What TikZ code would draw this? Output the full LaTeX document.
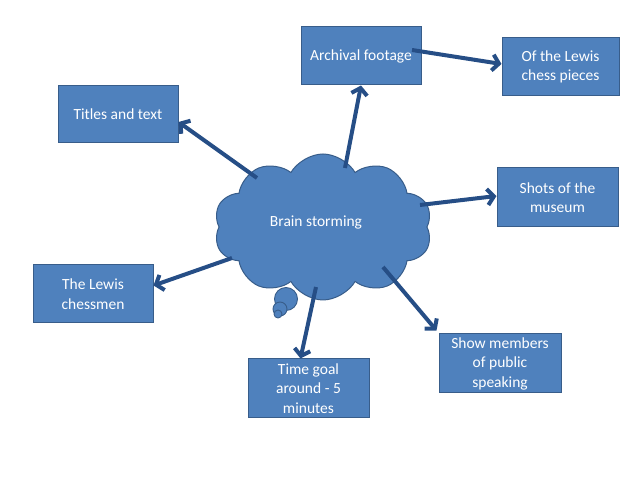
\documentclass[tikz,border=0pt]{standalone}
\usepackage{fontspec}
\setmainfont{Carlito}
\usetikzlibrary{arrows.meta,shapes.symbols,calc}
\definecolor{boxfill}{HTML}{4F81BD}
\definecolor{boxline}{HTML}{385D8A}
\definecolor{arrowc}{HTML}{264E86}
\begin{document}
\begin{tikzpicture}[x=1pt,y=-1pt,
  box/.style={rectangle,fill=boxfill,draw=boxline,line width=1pt,text=white,align=center,
    font=\fontsize{15.5}{19.5}\selectfont,inner sep=2pt},
  conn/.style={draw=arrowc,line width=4pt,-{Straight Barb[length=6.5pt 0,width=16pt 0]}},
  bubble/.style={circle,fill=boxfill,draw=boxline,line width=0.9pt,inner sep=0pt}]
\useasboundingbox (0,0) rectangle (638,478);
% thought bubbles
\node[bubble,minimum size=23pt] (b1) at (286,299) {};
\node[bubble,minimum size=14pt] (b2) at (280,309) {};
\node[bubble,minimum size=8pt] (b3) at (278,314) {};
% cloud
\node[cloud,cloud puffs=10,cloud puff arc=120,cloud ignores aspect,
  minimum width=218pt,minimum height=146pt,fill=boxfill,draw=boxline,line width=1pt] (cl) at (323,227) {};
\node[text=white,font=\fontsize{15.5}{19.5}\selectfont] (bs) at (316,223) {Brain storming};
% boxes
\node[box,minimum width=120pt,minimum height=58pt] (arch) at (361,56) {Archival footage};
\node[box,minimum width=117pt,minimum height=58pt] (ofl) at (560.5,67) {Of the Lewis\\chess pieces};
\node[box,minimum width=120pt,minimum height=57pt] (titles) at (118,114.5) {Titles and text};
\node[box,minimum width=121pt,minimum height=59pt] (shots) at (557.5,197.5) {Shots of the\\museum};
\node[box,minimum width=120pt,minimum height=58pt] (chess) at (93,294) {The Lewis\\chessmen};
\node[box,minimum width=121pt,minimum height=59pt] (time) at (308.5,388.5) {Time goal\\around - 5\\minutes};
\node[box,minimum width=122pt,minimum height=59pt] (show) at (500,363.5) {Show members\\of public\\speaking};
% start points inside cloud
\coordinate (s1) at (257,178);
\coordinate (s2) at (345,168);
\coordinate (s3) at (420,205);
\coordinate (s4) at (232,258);
\coordinate (s5) at (316,287);
\coordinate (s6) at (383,267);
\coordinate (s7) at (412,50);
% connectors
\draw[conn] (s1) -- ([yshift=-7.5pt]titles.east);
\draw[conn] (s2) -- (arch.south);
\draw[conn] (s3) -- ([yshift=1.5pt]shots.west);
\draw[conn] (s4) -- ([yshift=-21pt]chess.north east);
\draw[conn] (s5) -- ([xshift=-8pt]time.north);
\draw[conn] (s6) -- ([xshift=-2pt,yshift=3pt]show.north west);
\draw[conn] (s7) -- ([yshift=3pt]ofl.west);
\end{tikzpicture}
\end{document}
